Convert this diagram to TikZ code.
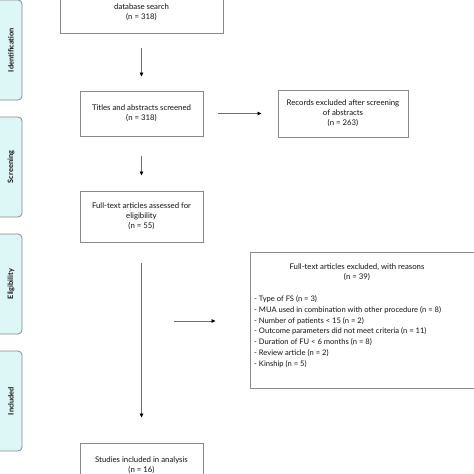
\documentclass[tikz,border=0pt]{standalone}
\usepackage{fontspec}
\setmainfont{Lato}
\usetikzlibrary{arrows.meta}
\definecolor{boxline}{HTML}{8A8A8A}
\definecolor{arrowline}{HTML}{6E6E6E}
\definecolor{phasefill}{HTML}{DDF6F6}
\definecolor{txt}{HTML}{111111}
\tikzset{
  flowbox/.style={draw=boxline, line width=0.9pt, fill=white, inner sep=0pt, minimum width=123pt, align=center, text=txt, font=\fontsize{7.8}{10}\selectfont},
  phase/.style={draw=boxline, line width=0.8pt, fill=phasefill, rounded corners=4pt, minimum width=27pt, minimum height=100pt, inner sep=0pt},
  phasetext/.style={rotate=90, font=\bfseries\fontsize{7.4}{8}\selectfont, text=txt},
  flowarrow/.style={draw=arrowline, line width=0.8pt, -{Triangle[length=4pt,width=3.6pt,fill=black,color=black]}},
  plaintext/.style={text=txt, font=\fontsize{7.8}{10}\selectfont, inner sep=0pt}
}
\begin{document}
\begin{tikzpicture}[x=1pt,y=-1pt]
\useasboundingbox (0,0) rectangle (474,474);
\clip (0,0) rectangle (474,474);
\fill[white] (0,0) rectangle (474,474);
% phase labels
\node[phase] (p1) at (8.5,50) {};
\node[phasetext] (p1t) at (11,50) {Identification};
\node[phase] (p2) at (8.5,167) {};
\node[phasetext] (p2t) at (11,167) {Screening};
\node[phase] (p3) at (8.5,284) {};
\node[phasetext] (p3t) at (11,284) {Eligibility};
\node[phase] (p4) at (8.5,401) {};
\node[phasetext] (p4t) at (11,401) {Included};
% flow boxes
\node[flowbox, minimum width=163pt, minimum height=42pt] (search) at (141.5,12) {database search\\(n = 318)};
\node[flowbox, minimum height=45pt] (titles) at (141.5,113.5) {Titles and abstracts screened\\(n = 318)};
\node[flowbox, minimum width=130pt, minimum height=47pt] (records) at (343,113.5) {Records excluded after screening\\of abstracts\\(n = 263)};
\node[flowbox, minimum height=51pt] (fulltext) at (141.5,216.5) {Full-text articles assessed for\\eligibility\\(n = 55)};
\node[flowbox, minimum height=44pt] (studies) at (141.5,465) {Studies included in analysis\\(n = 16)};
\node[flowbox, minimum width=240pt, minimum height=136pt] (excl) at (370,320) {};
\node[plaintext, align=center] (exclhead) at (357,272) {Full-text articles excluded, with reasons\\(n = 39)};
\node[plaintext, align=left, anchor=north west, font=\fontsize{7.6}{10.8}\selectfont] (excllist) at (254,295.5) {- Type of FS (n = 3)\\
- MUA used in combination with other procedure (n = 8)\\
- Number of patients < 15 (n = 2)\\
- Outcome parameters did not meet criteria (n = 11)\\
- Duration of FU < 6 months (n = 8)\\
- Review article (n = 2)\\
- Kinship (n = 5)};
% connectors
\draw[flowarrow, shorten <=15pt, shorten >=14pt] (search) -- (titles);
\draw[flowarrow, shorten <=15pt, shorten >=16pt] (titles) -- (records);
\draw[flowarrow, shorten <=20pt, shorten >=15pt] (titles) -- (fulltext);
\draw[flowarrow, shorten <=21pt, shorten >=25pt] (fulltext) -- (studies.north);
\coordinate (branch) at (141.5,321);
\draw[flowarrow, shorten <=32pt, shorten >=34pt] (branch) -- (excl.west |- branch);
\end{tikzpicture}
\end{document}
